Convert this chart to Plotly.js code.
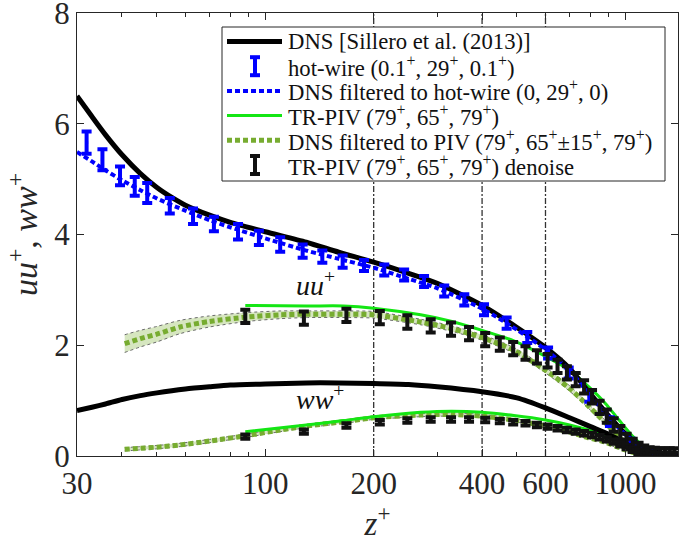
<!DOCTYPE html>
<html><head><meta charset="utf-8">
<script src="https://cdn.plot.ly/plotly-3.0.1.min.js"></script>
<style>html,body{margin:0;padding:0;background:#fff}#chart{width:685px;height:542px}</style>
</head><body><div id="chart"></div>
<script>
// ---- DNS [Sillero et al. (2013)] ----
const dnsZ  = [30,33,36,40,45,50,55,60,70,80,100,130,160,200,250,300,400,500,600,700,800,900,1000,1100,1200,1300,1400];
const dnsUU = [6.50,6.13,5.80,5.44,5.10,4.85,4.67,4.53,4.35,4.22,4.05,3.86,3.68,3.50,3.30,3.12,2.72,2.32,1.96,1.58,1.12,0.72,0.40,0.19,0.08,0.03,0.02];
const dnsWW = [0.82,0.88,0.94,1.02,1.09,1.14,1.18,1.21,1.25,1.28,1.30,1.32,1.32,1.31,1.29,1.25,1.16,1.05,0.87,0.69,0.53,0.39,0.24,0.12,0.05,0.02,0.01];

// ---- DNS filtered to hot-wire ----
const dnsHwZ  = [30,33,36,40,45,50,60,70,80,100,130,160,200,250,300,400,500,600,700,800,900,1000,1100,1200,1300,1400];
const dnsHwUU = [5.49,5.32,5.16,4.98,4.80,4.65,4.43,4.26,4.13,3.93,3.71,3.56,3.40,3.20,3.03,2.66,2.28,1.92,1.55,1.08,0.70,0.39,0.18,0.07,0.03,0.02];

// ---- hot-wire measurement ----
const hwZ   = [31.9,35.3,39.5,43.4,47.0,54.3,63,72,84,96,110,127,144,164,188,214,243,276,314,357,405,468,534,610,696,794,906,1034,1180,1346];
const hwUU  = [5.66,5.35,5.06,4.87,4.75,4.52,4.33,4.19,4.05,3.94,3.82,3.70,3.60,3.51,3.44,3.36,3.27,3.15,2.98,2.82,2.64,2.40,2.14,1.86,1.50,1.08,0.62,0.25,0.06,0.01];
const hwErr = [0.20,0.19,0.17,0.17,0.18,0.14,0.14,0.13,0.14,0.13,0.13,0.12,0.11,0.11,0.10,0.10,0.10,0.10,0.10,0.10,0.10,0.10,0.10,0.10,0.10,0.10,0.08,0.06,0.04,0.02];

// ---- TR-PIV ----
const pivZ  = [88,130,165,200,270,330,400,490,600,700,800,880,960,1050,1150,1250,1400];
const pivUU = [2.72,2.71,2.71,2.67,2.55,2.43,2.27,2.08,1.80,1.55,1.22,0.95,0.65,0.35,0.12,0.04,0.02];
const pivWW = [0.44,0.56,0.64,0.71,0.79,0.81,0.79,0.73,0.65,0.56,0.46,0.38,0.28,0.16,0.07,0.03,0.01];

// ---- DNS filtered to PIV (with spread band) ----
const dnsPivZ    = [40.7,45,50,58,70,89,110,130,170,200,270,330,400,490,600,700,790,880,980,1070,1150,1250,1400];
const dnsPivUU   = [2.03,2.12,2.20,2.33,2.43,2.51,2.55,2.56,2.56,2.55,2.42,2.30,2.14,1.91,1.55,1.22,0.90,0.60,0.29,0.08,0.01,0.00,0.00];
const dnsPivUUsd = [0.16,0.15,0.14,0.12,0.10,0.08,0.07,0.06,0.06,0.06,0.05,0.05,0.05,0.05,0.05,0.05,0.04,0.04,0.03,0.02,0.01,0.01,0.01];
const dnsPivWW   = [0.12,0.14,0.16,0.20,0.27,0.37,0.47,0.54,0.63,0.69,0.74,0.75,0.72,0.65,0.54,0.43,0.33,0.25,0.13,0.05,0.01,0.00,0.00];
const dnsPivWWsd = [0.03,0.03,0.03,0.03,0.03,0.03,0.03,0.03,0.03,0.03,0.03,0.03,0.03,0.03,0.03,0.03,0.02,0.02,0.02,0.01,0.01,0.01,0.01];

// ---- TR-PIV denoise ----
const dnZ   = [88,128,168,208,248,288,328,368,408,448,488,528,568,608,648,688,728,768,808,848,888,928,968,1008,1048,1088,1128,1168,1208,1248,1288,1328,1368];
const dnUU  = [2.52,2.49,2.54,2.50,2.42,2.35,2.29,2.21,2.10,2.02,1.94,1.86,1.79,1.72,1.62,1.50,1.38,1.25,1.07,0.88,0.72,0.56,0.42,0.28,0.19,0.12,0.07,0.04,0.03,0.02,0.02,0.02,0.02];
const dnWW  = [0.35,0.44,0.55,0.61,0.64,0.66,0.66,0.66,0.65,0.63,0.61,0.59,0.56,0.53,0.50,0.47,0.44,0.41,0.38,0.34,0.30,0.26,0.21,0.16,0.12,0.08,0.05,0.03,0.02,0.02,0.02,0.02,0.02];
const dnUUerr = dnUU.map(()=>0.12);
const dnWWerr = dnWW.map(()=>0.04);

const vLines = [200,400,600];
const xTicks = [30,100,200,400,600,1000];
const xMinor = [40,50,60,70,80,90,300,500,700,800,900];
const yTicks = [0,2,4,6,8];

const legendLabels = [
  'DNS [Sillero et al. (2013)]',
  'hot-wire (0.1<sup>+</sup>, 29<sup>+</sup>, 0.1<sup>+</sup>)',
  'DNS filtered to hot-wire (0, 29<sup>+</sup>, 0)',
  'TR-PIV (79<sup>+</sup>, 65<sup>+</sup>, 79<sup>+</sup>)',
  'DNS filtered to PIV (79<sup>+</sup>, 65<sup>+</sup>±15<sup>+</sup>, 79<sup>+</sup>)',
  'TR-PIV (79<sup>+</sup>, 65<sup>+</sup>, 79<sup>+</sup>) denoise'
];

const BLUE = '#0000ff', BLACK = '#000000', LIME = '#14e614', OLIVE = '#77ac30';
const FONT = '"Liberation Serif", "DejaVu Serif", serif';
const SPL = {shape:'spline', smoothing:0.7};

function band(z, m, sd, name){
  const lo = m.map((v,i)=>v-sd[i]), hi = m.map((v,i)=>v+sd[i]);
  return [
    {x:z, y:lo, mode:'lines', line:Object.assign({color:'#6b6b6b', width:1, dash:'dot'}, SPL), hoverinfo:'skip', showlegend:false, name:name+' lo'},
    {x:z, y:hi, mode:'lines', line:Object.assign({color:'#6b6b6b', width:1, dash:'dot'}, SPL), fill:'tonexty', fillcolor:'rgba(119,172,48,0.30)', hoverinfo:'skip', showlegend:false, name:name+' hi'}
  ];
}
function ln(color, width, dash){ return Object.assign({color:color, width:width, dash:dash||'solid'}, SPL); }

const traces = [
  ...band(dnsPivZ, dnsPivUU, dnsPivUUsd, 'uu band'),
  ...band(dnsPivZ, dnsPivWW, dnsPivWWsd, 'ww band'),
  {x:dnsPivZ, y:dnsPivUU, mode:'lines', line:ln(OLIVE,5,'5px,3px'), showlegend:false, name:'DNS filtered to PIV uu'},
  {x:dnsPivZ, y:dnsPivWW, mode:'lines', line:ln(OLIVE,5,'5px,3px'), showlegend:false, name:'DNS filtered to PIV ww'},
  {x:pivZ, y:pivUU, mode:'lines', line:ln(LIME,3), showlegend:false, name:'TR-PIV uu'},
  {x:pivZ, y:pivWW, mode:'lines', line:ln(LIME,3), showlegend:false, name:'TR-PIV ww'},
  {x:dnsZ, y:dnsUU, mode:'lines', line:ln(BLACK,5), showlegend:false, name:'DNS uu'},
  {x:dnsZ, y:dnsWW, mode:'lines', line:ln(BLACK,5), showlegend:false, name:'DNS ww'},
  {x:dnsHwZ, y:dnsHwUU, mode:'lines', line:ln(BLUE,4,'5px,3px'), showlegend:false, name:'DNS filtered to hot-wire'},
  {x:hwZ, y:hwUU, mode:'markers', marker:{color:BLUE, size:3, symbol:'square'},
   error_y:{type:'data', array:hwErr, visible:true, color:BLUE, thickness:4, width:5}, showlegend:false, name:'hot-wire'},
  {x:dnZ, y:dnUU, mode:'markers', marker:{color:'#111', size:3, symbol:'square'},
   error_y:{type:'data', array:dnUUerr, visible:true, color:'#111', thickness:4, width:5}, showlegend:false, name:'denoise uu'},
  {x:dnZ, y:dnWW, mode:'markers', marker:{color:'#111', size:3, symbol:'square'},
   error_y:{type:'data', array:dnWWerr, visible:true, color:'#111', thickness:4, width:5}, showlegend:false, name:'denoise ww'}
];

// pixel helpers for the legend box (plot area 77..678 x 13..456)
const L = 77, T = 13, W = 601, H = 443;
const px = x => (x - L) / W;
const py = y => (T + H - y) / H;

const shapes = vLines.map(v => ({type:'line', xref:'x', yref:'paper', x0:v, x1:v, y0:0, y1:1,
  line:{color:'#333333', width:1.3, dash:'6px,2px,2px,2px'}, layer:'below'}));

shapes.push({type:'rect', xref:'paper', yref:'paper', x0:px(222), x1:px(665), y0:py(27), y1:py(181),
  fillcolor:'#ffffff', line:{color:'#262626', width:1}, layer:'above'});

const rowY = [41.5, 66.2, 90.9, 115.6, 140.3, 165];
const sx0 = 227, sx1 = 282, scx = 255;
function seg(x0,y0,x1,y1,color,width,dash){
  return {type:'line', xref:'paper', yref:'paper', x0:px(x0), x1:px(x1), y0:py(y0), y1:py(y1),
    line:{color:color, width:width, dash:dash||'solid'}, layer:'above'};
}
function ibar(cy,color){
  return [seg(scx,cy-9,scx,cy+9,color,4), seg(scx-5,cy-9,scx+5,cy-9,color,4), seg(scx-5,cy+9,scx+5,cy+9,color,4)];
}
shapes.push(seg(sx0,rowY[0],sx1,rowY[0],BLACK,5));
shapes.push(...ibar(rowY[1],BLUE));
shapes.push(seg(sx0,rowY[2],sx1,rowY[2],BLUE,4,'5px,3px'));
shapes.push(seg(sx0,rowY[3],sx1,rowY[3],LIME,3));
shapes.push(seg(sx0,rowY[4],sx1,rowY[4],OLIVE,5,'5px,3px'));
shapes.push(...ibar(rowY[5],'#111'));

const annotations = legendLabels.map((t,i)=>({xref:'paper', yref:'paper', x:px(286), y:py(rowY[i]),
  xanchor:'left', yanchor:'middle', text:t, showarrow:false, font:{family:FONT, size:22.7, color:'#111'}}));

annotations.push({xref:'x', yref:'y', x:Math.log10(138), y:3.12, text:'<i>uu</i><sup>+</sup>', showarrow:false,
  font:{family:FONT, size:28, color:'#111'}});
annotations.push({xref:'x', yref:'y', x:Math.log10(142), y:1.06, text:'<i>ww</i><sup>+</sup>', showarrow:false,
  font:{family:FONT, size:28, color:'#111'}});

const axisCommon = {showline:true, linecolor:'#262626', linewidth:1, mirror:'ticks', ticks:'inside', ticklen:7,
  tickcolor:'#262626', showgrid:false, zeroline:false, ticklabeloverflow:'allow',
  tickfont:{family:FONT, size:31, color:'#262626'}};

const layout = {
  width:685, height:542,
  margin:{l:77, r:7, t:13, b:86},
  paper_bgcolor:'#ffffff', plot_bgcolor:'#ffffff',
  showlegend:false,
  font:{family:FONT},
  xaxis:Object.assign({}, axisCommon, {type:'log', range:[Math.log10(30), Math.log10(1400)],
    tickmode:'array', tickvals:xTicks, ticktext:xTicks.map(String),
    minor:{ticks:'inside', ticklen:4, tickcolor:'#262626', tickmode:'array', tickvals:xMinor, showgrid:false},
    title:{text:'<i>z</i><sup>+</sup>', font:{family:FONT, size:33, color:'#262626'}, standoff:10}}),
  yaxis:Object.assign({}, axisCommon, {range:[0,8.0005], tickmode:'array', tickvals:yTicks, ticktext:yTicks.map(String),
    title:{text:'<i>uu</i><sup>+</sup>, <i>ww</i><sup>+</sup>', font:{family:FONT, size:34, color:'#262626'}, standoff:6}}),
  shapes:shapes,
  annotations:annotations
};

Plotly.newPlot('chart', traces, layout, {displayModeBar:false, staticPlot:true});
</script>
</body></html>
